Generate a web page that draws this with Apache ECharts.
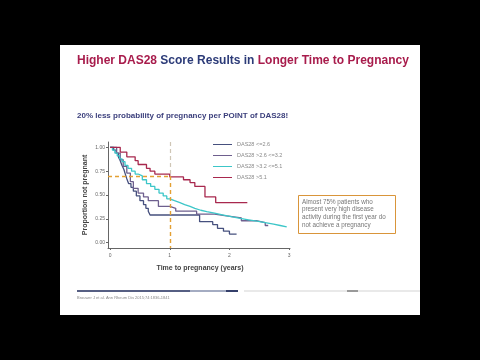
<!DOCTYPE html>
<html>
<head>
<meta charset="utf-8">
<script src="https://cdn.jsdelivr.net/npm/echarts@6/dist/echarts.min.js"></script>
<style>
html,body{margin:0;padding:0;background:#000;}
#c{width:480px;height:360px;}
</style>
</head>
<body>
<div id="c"></div>
<script>
// ---- Data ----
const seriesNames = ['DAS28 <=2.6', 'DAS28 >2.6 <=3.2', 'DAS28 >3.2 <=5.1', 'DAS28 >5.1'];

const timeLow = [0, 0.06, 0.1, 0.14, 0.17, 0.2, 0.23, 0.25, 0.28, 0.31, 0.35, 0.39, 0.44, 0.5, 0.56, 0.6, 0.64, 0.67, 1.5, 1.72, 1.8, 1.9, 2.0, 2.12];
const survLow = [1, 0.97, 0.94, 0.90, 0.86, 0.81, 0.77, 0.73, 0.67, 0.62, 0.58, 0.54, 0.49, 0.44, 0.40, 0.36, 0.33, 0.29, 0.22, 0.19, 0.15, 0.12, 0.09, 0.09];

const timeMod = [0, 0.11, 0.17, 0.22, 0.28, 0.34, 0.39, 0.47, 0.56, 0.64, 0.81, 1.0, 1.1, 1.45, 1.75, 1.95, 2.2, 2.45, 2.6, 2.65];
const survMod = [1, 0.94, 0.87, 0.80, 0.73, 0.64, 0.57, 0.52, 0.48, 0.44, 0.38, 0.36, 0.33, 0.30, 0.28, 0.26, 0.23, 0.21, 0.18, 0.18];

const timeHigh = [0, 0.04, 0.08, 0.12, 0.16, 0.2, 0.25, 0.3, 0.36, 0.42, 0.47, 0.54, 0.61, 0.68, 0.75, 0.82, 0.89, 0.95, 1.0, 1.08, 1.17, 1.25, 1.34, 1.42, 1.52, 1.62, 1.75, 1.9, 2.05, 2.18, 2.32, 2.46, 2.6, 2.74, 2.85, 2.96];
const survHigh = [1, 0.97, 0.94, 0.91, 0.88, 0.85, 0.81, 0.78, 0.75, 0.72, 0.70, 0.66, 0.62, 0.59, 0.56, 0.52, 0.49, 0.46, 0.44, 0.42, 0.40, 0.38, 0.36, 0.34, 0.325, 0.31, 0.29, 0.27, 0.255, 0.24, 0.225, 0.21, 0.195, 0.18, 0.165, 0.165];

const timeVHigh = [0, 0.17, 0.28, 0.42, 0.47, 0.61, 0.67, 0.75, 1.0, 1.23, 1.34, 1.42, 1.59, 1.77, 2.3];
const survVHigh = [1, 0.95, 0.90, 0.86, 0.82, 0.78, 0.75, 0.72, 0.69, 0.66, 0.63, 0.59, 0.48, 0.42, 0.42];

const xTicks = [0, 1, 2, 3];
const yTicks = [0, 0.25, 0.5, 0.75, 1];
const refYear = 1;
const refProp = 0.70;

const colors = ['#46507e', '#6e5f8e', '#3cc6c8', '#a8284e'];

function pairs(t, s) { return t.map((v, i) => [v, s[i]]); }
const allData = [pairs(timeLow, survLow), pairs(timeMod, survMod), pairs(timeHigh, survHigh), pairs(timeVHigh, survVHigh)];

const xMin = -0.035, xMax = 3.015, yMin = -0.056, yMax = 1.056;

const series = allData.map((d, i) => ({
  name: seriesNames[i],
  type: 'line',
  step: 'end',
  symbol: 'none',
  data: d,
  lineStyle: { color: colors[i], width: 1.3 },
  itemStyle: { color: colors[i] },
  z: 3
}));

series.push({
  type: 'line',
  data: [],
  silent: true,
  markLine: {
    silent: true,
    symbol: 'none',
    label: { show: false },
    data: [
      [{ coord: [xMin, refProp], lineStyle: { color: '#e3a033', width: 1.4, type: [4, 3] } }, { coord: [refYear, refProp] }],
      [{ coord: [refYear, refProp], lineStyle: { color: '#e3a033', width: 1.4, type: [4, 3] } }, { coord: [refYear, yMin] }],
      [{ coord: [refYear, yMax], lineStyle: { color: '#cfc6b6', width: 1.2, type: [4, 3] } }, { coord: [refYear, refProp] }]
    ]
  },
  z: 2
});

const chart = echarts.init(document.getElementById('c'), null, { renderer: 'canvas' });
const font = '"Liberation Sans", Arial, sans-serif';

chart.setOption({
  backgroundColor: '#000',
  animation: false,
  textStyle: { fontFamily: font },
  grid: { left: 108, top: 142, width: 182, height: 106, containLabel: false },
  legend: {
    data: seriesNames.map(n => ({ name: n, icon: 'rect' })),
    orient: 'vertical',
    left: 213, top: 141, padding: 0,
    itemWidth: 19, itemHeight: 1, itemGap: 4,
    textStyle: { fontSize: 5.5, color: '#8a8a8a', fontFamily: font, height: 7, lineHeight: 7 }
  },
  xAxis: {
    type: 'value', min: xMin, max: xMax,
    splitLine: { show: false },
    axisLine: { show: true, onZero: false, lineStyle: { color: '#666', width: 1 } },
    axisTick: { show: true, customValues: xTicks, length: 2, lineStyle: { color: '#666' } },
    axisLabel: { customValues: xTicks, fontSize: 5, color: '#666', margin: 5 }
  },
  yAxis: {
    type: 'value', min: yMin, max: yMax,
    splitLine: { show: false },
    axisLine: { show: true, onZero: false, lineStyle: { color: '#666', width: 1 } },
    axisTick: { show: true, customValues: yTicks, length: 2, lineStyle: { color: '#666' } },
    axisLabel: { customValues: yTicks, fontSize: 5, color: '#666', margin: 3, formatter: v => v.toFixed(2) }
  },
  graphic: [
    { type: 'rect', z: -10, shape: { x: 60, y: 45, width: 360, height: 270 }, style: { fill: '#fff' } },
    {
      type: 'text', left: 77, top: 55,
      style: {
        text: '{r|Higher DAS28 }{b|Score Results in }{r|Longer Time to Pregnancy}',
        rich: {
          r: { fill: '#a81c4c', fontSize: 12, fontWeight: 'bold', fontFamily: font },
          b: { fill: '#2c3b78', fontSize: 12, fontWeight: 'bold', fontFamily: font }
        }
      }
    },
    {
      type: 'text', left: 77, top: 112,
      style: { text: '20% less probability of pregnancy per POINT of DAS28!', fill: '#3b3f7c', fontSize: 8, fontWeight: 'bold', fontFamily: font }
    },
    {
      type: 'text', x: 85, y: 195, rotation: Math.PI / 2,
      style: { text: 'Proportion not pregnant', fill: '#444', fontSize: 7, fontWeight: 'bold', fontFamily: font, align: 'center', verticalAlign: 'middle' }
    },
    {
      type: 'text', x: 200, y: 268,
      style: { text: 'Time to pregnancy (years)', fill: '#444', fontSize: 7, fontWeight: 'bold', fontFamily: font, align: 'center', verticalAlign: 'middle' }
    },
    { type: 'rect', shape: { x: 298.5, y: 195.5, width: 97, height: 38 }, style: { fill: 'none', stroke: '#d9953a', lineWidth: 1 } },
    {
      type: 'text', x: 302, y: 198,
      style: {
        text: 'Almost 75% patients who\npresent very high disease\nactivity during the first year do\nnot achieve a pregnancy',
        fill: '#777', fontSize: 6.3, lineHeight: 7.8, fontFamily: font
      }
    },
    { type: 'line', shape: { x1: 77, y1: 291, x2: 190, y2: 291 }, style: { stroke: '#1e2a5a', lineWidth: 1.6 } },
    { type: 'line', shape: { x1: 190, y1: 291, x2: 226, y2: 291 }, style: { stroke: '#4a5a86', lineWidth: 1.2 } },
    { type: 'line', shape: { x1: 226, y1: 291, x2: 238, y2: 291 }, style: { stroke: '#1e2a5a', lineWidth: 1.8 } },
    { type: 'line', shape: { x1: 244, y1: 291, x2: 420, y2: 291 }, style: { stroke: '#c8c8c8', lineWidth: 0.8 } },
    { type: 'line', shape: { x1: 347, y1: 291, x2: 358, y2: 291 }, style: { stroke: '#777', lineWidth: 1.4 } },
    {
      type: 'text', x: 77, y: 296,
      style: { text: 'Brouwer J et al. Ann Rheum Dis 2015;74:1836-1841', fill: '#888', fontSize: 4, fontFamily: font }
    }
  ],
  series: series
});
</script>
</body>
</html>
